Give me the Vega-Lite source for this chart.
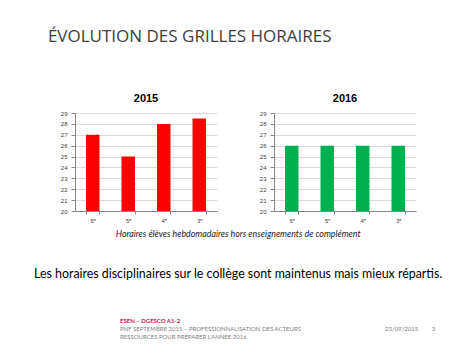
{
  "$schema": "https://vega.github.io/schema/vega-lite/v6.json",
  "background": "white",
  "padding": {"left": 33, "top": 28, "right": 5, "bottom": 5},
  "config": {
    "font": "Lato",
    "view": {"stroke": null},
    "axis": {"labelFont": "Liberation Sans", "labelColor": "#404040", "domainColor": "#868686", "tickColor": "#868686", "title": null},
    "concat": {"spacing": 10}
  },
  "datasets": {
    "y2015": [
      {"niveau": "6ᵉ", "heures": 27},
      {"niveau": "5ᵉ", "heures": 25},
      {"niveau": "4ᵉ", "heures": 28},
      {"niveau": "3ᵉ", "heures": 28.5}
    ],
    "y2016": [
      {"niveau": "6ᵉ", "heures": 26},
      {"niveau": "5ᵉ", "heures": 26},
      {"niveau": "4ᵉ", "heures": 26},
      {"niveau": "3ᵉ", "heures": 26}
    ]
  },
  "title": {
    "text": "ÉVOLUTION DES GRILLES HORAIRES",
    "anchor": "start",
    "dx": 14,
    "fontSize": 17,
    "fontWeight": "normal",
    "font": "Open Sans",
    "color": "#404040",
    "offset": 47
  },
  "vconcat": [
    {
      "title": {
        "text": "Horaires élèves hebdomadaires hors enseignements de complément",
        "orient": "bottom",
        "anchor": "middle",
        "fontSize": 8.8,
        "fontStyle": "italic",
        "fontWeight": "normal",
        "color": "#1a1a1a",
        "offset": 7,
        "subtitle": "Les horaires disciplinaires sur le collège sont maintenus mais mieux répartis.",
        "subtitleFontSize": 12.4,
        "subtitleColor": "#000000",
        "subtitleFont": "Lato",
        "subtitlePadding": 29
      },
      "spacing": 42,
      "hconcat": [
        {
          "data": {"name": "y2015"},
          "width": 142,
          "height": 98,
          "title": {"text": "2015", "fontSize": 11, "fontWeight": "bold", "font": "Liberation Sans", "offset": 6},
          "mark": {"type": "bar", "color": "#ff0000", "clip": true},
          "encoding": {
            "x": {"field": "niveau", "type": "nominal", "sort": null,
                  "scale": {"paddingInner": 0.62, "paddingOuter": 0.31},
                  "axis": {"labelAngle": 0, "labelFontSize": 6, "ticks": true, "tickBand": "extent", "tickSize": 3, "labelPadding": 3}},
            "y": {"field": "heures", "type": "quantitative",
                  "scale": {"domain": [20, 29], "nice": false, "zero": false},
                  "axis": {"values": [20,21,22,23,24,25,26,27,28,29], "labelFontSize": 6, "tickSize": 4, "gridColor": "#d9d9d9", "labelPadding": 4}}
          }
        },
        {
          "data": {"name": "y2016"},
          "width": 142,
          "height": 98,
          "title": {"text": "2016", "fontSize": 11, "fontWeight": "bold", "font": "Liberation Sans", "offset": 6},
          "mark": {"type": "bar", "color": "#00b050", "clip": true},
          "encoding": {
            "x": {"field": "niveau", "type": "nominal", "sort": null,
                  "scale": {"paddingInner": 0.62, "paddingOuter": 0.31},
                  "axis": {"labelAngle": 0, "labelFontSize": 6, "ticks": true, "tickBand": "extent", "tickSize": 3, "labelPadding": 3}},
            "y": {"field": "heures", "type": "quantitative",
                  "scale": {"domain": [20, 29], "nice": false, "zero": false},
                  "axis": {"values": [20,21,22,23,24,25,26,27,28,29], "labelFontSize": 6, "tickSize": 4, "gridColor": "#d9d9d9", "labelPadding": 4}}
          }
        }
      ]
    },
    {
      "spacing": 10,
      "hconcat": [
        {
          "data": {"values": [{}]},
          "width": 300,
          "height": 1,
          "title": {
            "text": "ESEN – DGESCO A1-2",
            "anchor": "start",
            "dx": 45,
            "fontSize": 6,
            "fontWeight": "bold",
            "color": "#c8174f",
            "subtitle": ["PNF SEPTEMBRE 2015 – PROFESSIONNALISATION DES ACTEURS", "RESSOURCES POUR PRÉPARER L'ANNÉE 2016"],
            "subtitleFontSize": 6,
            "subtitleColor": "#7f7f7f",
            "subtitlePadding": 2
          },
          "mark": {"type": "text"},
          "encoding": {"text": {"value": ""}}
        },
        {
          "data": {"values": [{}]},
          "width": 60,
          "height": 1,
          "title": {
            "text": "23/09/2015\u2003\u2003\u20033",
            "anchor": "start",
            "fontSize": 6,
            "fontWeight": "normal",
            "color": "#7f7f7f",
            "offset": 12
          },
          "mark": {"type": "text"},
          "encoding": {"text": {"value": ""}}
        }
      ]
    }
  ],
  "spacing": 36
}
